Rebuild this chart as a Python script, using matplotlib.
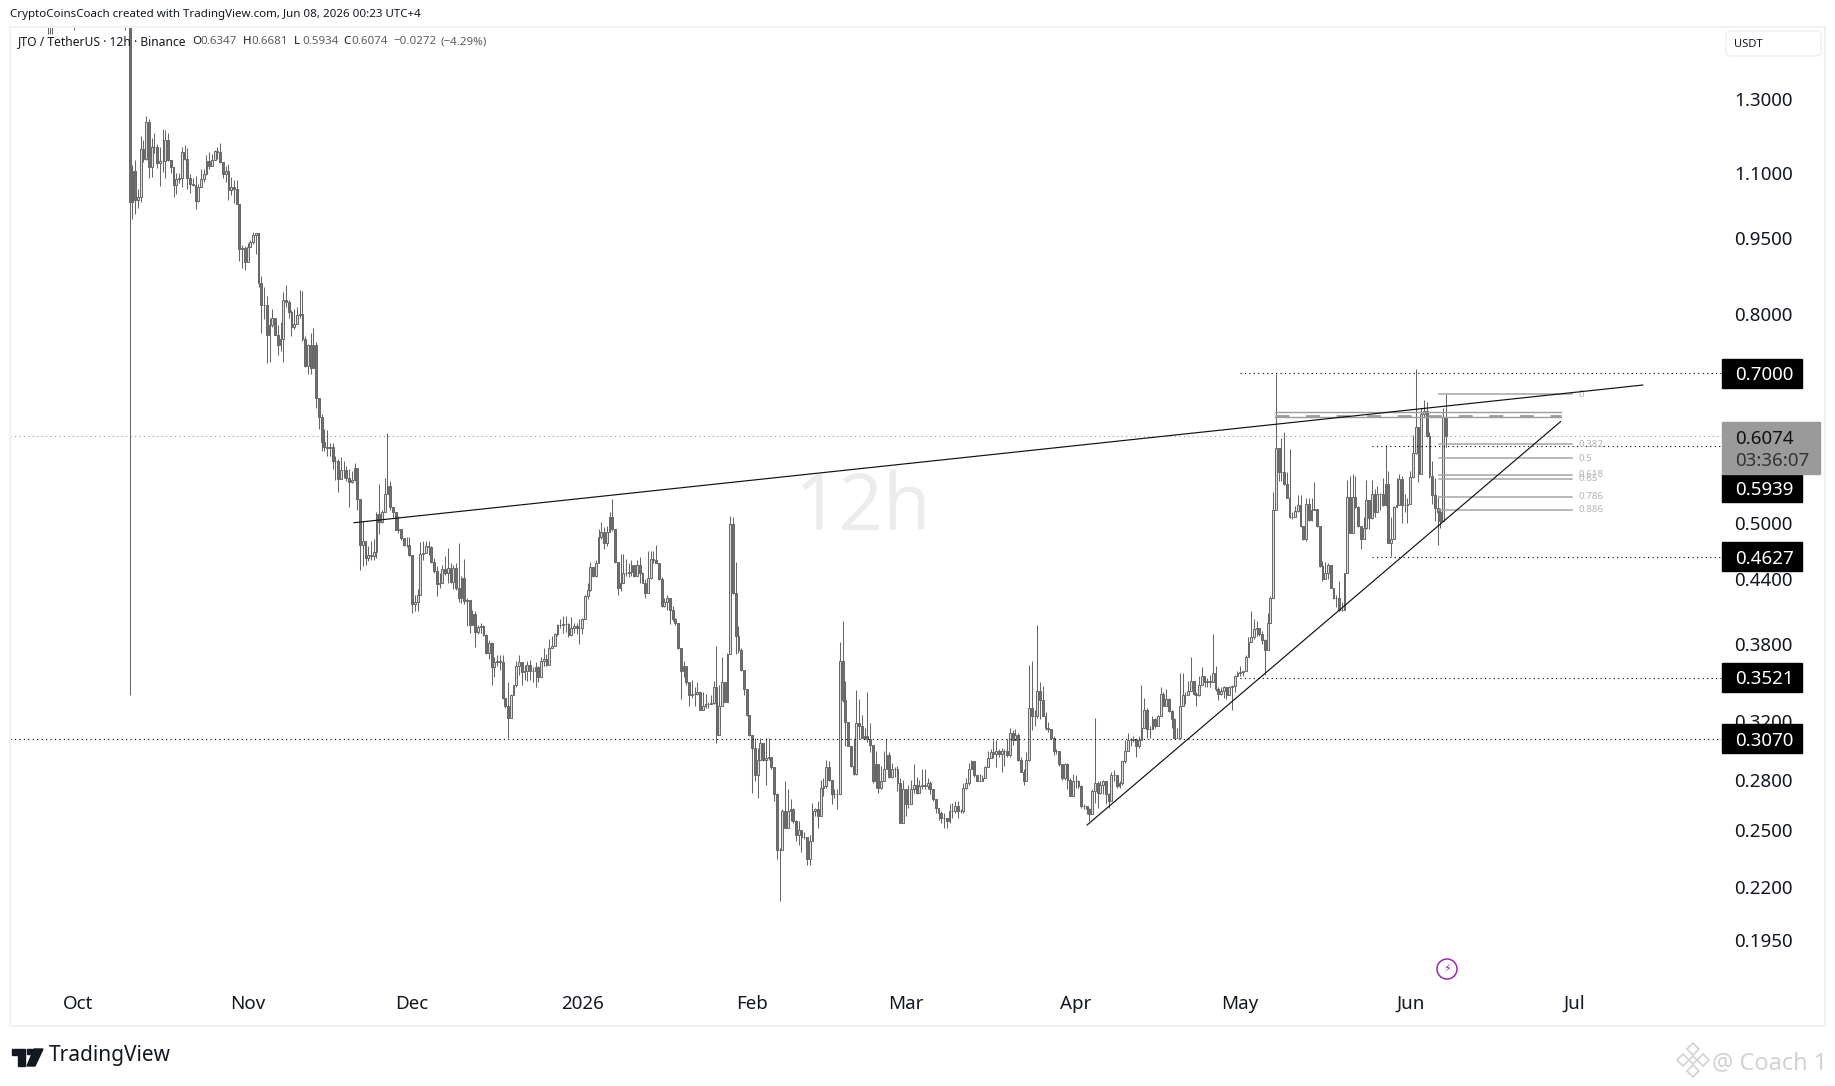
import matplotlib
matplotlib.use('Agg')
import matplotlib.pyplot as plt
import matplotlib.dates as mdates
from matplotlib.patches import Rectangle, FancyBboxPatch, Ellipse, Polygon
import numpy as np
import pandas as pd

plt.rcParams['font.family'] = ['Noto Sans', 'DejaVu Sans']

W, H = 1835, 1086

# 12h candles, open = previous close
first_open = 2.2
closes = [
    1.030,1.104,1.035,1.043,1.162,1.136,1.233,1.114,1.166,1.166,
    1.126,1.129,1.129,1.186,1.132,1.114,1.070,1.086,1.088,1.153,
    1.135,1.087,1.072,1.071,1.033,1.065,1.085,1.097,1.131,1.118,
    1.134,1.156,1.154,1.128,1.097,1.104,1.058,1.066,1.061,1.025,
    .926,.929,.900,.931,.941,.956,.960,.858,.816,.817,
    .763,.781,.793,.763,.746,.756,.826,.822,.805,.777,
    .782,.798,.800,.756,.712,.747,.709,.747,.663,.635,
    .600,.593,.592,.593,.575,.575,.552,.563,.563,.553,
    .548,.551,.566,.527,.476,.480,.462,.465,.464,.468,
    .510,.501,.512,.533,.543,.518,.512,.492,.493,.483,
    .476,.475,.465,.416,.418,.425,.466,.467,.474,.473,
    .458,.448,.435,.436,.450,.446,.451,.437,.451,.432,
    .422,.441,.419,.420,.397,.407,.391,.395,.396,.388,
    .373,.381,.361,.365,.366,.365,.337,.331,.322,.339,
    .347,.362,.365,.357,.358,.363,.358,.358,.361,.353,
    .366,.368,.363,.377,.379,.389,.397,.397,.398,.398,
    .388,.394,.396,.394,.394,.402,.424,.430,.452,.443,
    .457,.484,.490,.478,.490,.507,.493,.458,.432,.436,
    .446,.446,.447,.455,.443,.455,.446,.436,.427,.441,
    .461,.460,.457,.440,.414,.418,.422,.411,.402,.399,
    .377,.358,.362,.349,.339,.340,.340,.341,.328,.331,
    .332,.332,.333,.345,.310,.331,.349,.334,.372,.499,
    .427,.387,.375,.359,.344,.324,.310,.301,.283,.293,
    .304,.293,.294,.295,.288,.271,.239,.239,.261,.251,
    .261,.262,.255,.247,.250,.246,.246,.234,.244,.261,
    .262,.258,.275,.276,.288,.280,.271,.271,.271,.366,
    .335,.319,.302,.289,.284,.318,.316,.308,.309,.307,
    .303,.279,.290,.275,.279,.287,.296,.282,.287,.287,
    .278,.254,.274,.265,.265,.274,.277,.272,.276,.277,
    .276,.278,.274,.268,.263,.260,.257,.257,.255,.261,
    .261,.264,.261,.261,.275,.278,.287,.292,.283,.279,
    .279,.281,.288,.294,.298,.297,.299,.297,.299,.299,
    .296,.311,.306,.310,.293,.285,.279,.293,.329,.323,
    .323,.342,.335,.323,.315,.314,.308,.299,.299,.290,
    .281,.290,.280,.270,.279,.279,.276,.264,.264,.262,
    .259,.273,.278,.272,.277,.279,.271,.267,.283,.283,
    .276,.278,.292,.299,.306,.306,.307,.302,.306,.315,
    .328,.314,.314,.321,.316,.323,.340,.331,.336,.327,
    .321,.308,.308,.331,.339,.339,.342,.350,.340,.339,
    .347,.354,.349,.350,.349,.356,.344,.340,.342,.345,
    .339,.345,.346,.354,.356,.357,.358,.369,.382,.386,
    .393,.394,.389,.384,.375,.399,.422,.515,.592,.561,
    .561,.545,.529,.506,.506,.513,.520,.496,.482,.522,
    .503,.515,.516,.496,.454,.440,.446,.455,.432,.422,
    .422,.411,.411,.446,.530,.489,.530,.518,.496,.482,
    .494,.526,.505,.533,.512,.533,.534,.520,.545,.478,
    .482,.518,.520,.552,.520,.520,.522,.554,.585,.620,
    .558,.639,.643,.608,.555,.532,.517,.512,.502,.6347,
    .6074]
highs = [
    3.0,1.119,1.132,1.061,1.195,1.184,1.251,1.243,1.190,1.205,
    1.174,1.166,1.214,1.211,1.203,1.132,1.114,1.099,1.100,1.166,
    1.172,1.164,1.097,1.087,1.092,1.072,1.109,1.109,1.145,1.154,
    1.147,1.158,1.166,1.178,1.128,1.118,1.123,1.089,1.083,1.083,
    1.026,.936,.933,.940,.946,.964,.960,.961,.873,.851,
    .833,.793,.810,.793,.781,.787,.841,.854,.827,.807,
    .809,.813,.845,.843,.761,.748,.767,.776,.752,.663,
    .639,.617,.616,.599,.599,.581,.577,.580,.575,.568,
    .564,.562,.572,.566,.527,.502,.474,.474,.480,.482,
    .512,.546,.515,.553,.612,.549,.518,.512,.508,.493,
    .483,.484,.484,.465,.425,.431,.479,.480,.480,.480,
    .474,.462,.454,.446,.455,.464,.472,.457,.455,.457,
    .478,.443,.461,.422,.420,.411,.410,.397,.399,.397,
    .389,.384,.382,.369,.371,.371,.371,.337,.349,.340,
    .347,.366,.371,.363,.363,.366,.367,.361,.365,.362,
    .369,.377,.372,.385,.387,.390,.398,.402,.405,.405,
    .399,.404,.399,.399,.402,.403,.425,.436,.458,.452,
    .460,.493,.501,.495,.496,.512,.528,.492,.457,.466,
    .466,.461,.457,.460,.455,.460,.463,.447,.440,.469,
    .469,.469,.476,.457,.442,.422,.425,.421,.414,.403,
    .399,.377,.366,.362,.347,.351,.345,.349,.341,.341,
    .340,.334,.339,.350,.379,.347,.369,.349,.373,.508,
    .507,.458,.396,.377,.359,.344,.324,.310,.308,.301,
    .308,.304,.308,.308,.295,.288,.272,.240,.262,.279,
    .274,.268,.263,.256,.255,.249,.249,.246,.247,.266,
    .263,.267,.280,.281,.293,.292,.280,.274,.274,.382,
    .401,.350,.319,.302,.308,.343,.336,.324,.315,.341,
    .318,.303,.299,.290,.289,.299,.307,.298,.291,.288,
    .289,.281,.280,.274,.277,.280,.290,.282,.280,.287,
    .287,.281,.279,.274,.268,.263,.261,.260,.257,.265,
    .266,.267,.267,.262,.278,.281,.291,.293,.292,.283,
    .284,.283,.289,.299,.300,.306,.306,.300,.301,.300,
    .307,.315,.313,.314,.311,.295,.287,.298,.363,.366,
    .328,.397,.349,.346,.326,.319,.314,.309,.300,.299,
    .290,.291,.291,.281,.284,.283,.280,.277,.265,.263,
    .263,.274,.322,.279,.279,.280,.279,.272,.285,.286,
    .283,.279,.292,.306,.311,.308,.309,.308,.309,.347,
    .337,.329,.316,.323,.322,.324,.345,.341,.344,.337,
    .328,.322,.315,.356,.356,.341,.350,.369,.350,.341,
    .354,.361,.354,.352,.355,.389,.362,.345,.345,.346,
    .345,.346,.347,.355,.358,.362,.358,.371,.386,.410,
    .402,.401,.394,.392,.385,.408,.424,.536,.699,.592,
    .605,.613,.560,.590,.512,.519,.532,.532,.496,.529,
    .529,.529,.548,.516,.496,.459,.458,.457,.455,.432,
    .425,.438,.418,.446,.550,.556,.558,.556,.519,.494,
    .506,.551,.526,.551,.539,.543,.535,.553,.596,.562,
    .506,.519,.553,.558,.555,.533,.529,.562,.610,.707,
    .620,.648,.660,.657,.613,.575,.553,.531,.517,.648,
    .6681]
lows = [
    .339,.992,1.004,1.016,1.031,1.128,1.132,1.087,1.091,1.150,
    1.113,1.069,1.103,1.088,1.130,1.100,1.043,1.050,1.075,1.066,
    1.132,1.061,1.051,1.068,1.014,1.031,1.065,1.077,1.095,1.111,
    1.118,1.134,1.136,1.126,1.088,1.077,1.035,1.048,1.027,1.025,
    .902,.888,.883,.900,.931,.938,.917,.851,.767,.792,
    .717,.718,.777,.763,.730,.737,.719,.813,.793,.761,
    .774,.782,.793,.754,.710,.699,.699,.709,.648,.617,
    .588,.588,.581,.581,.564,.551,.536,.553,.553,.549,
    .518,.547,.549,.515,.449,.454,.455,.459,.460,.460,
    .462,.487,.500,.512,.533,.515,.506,.492,.488,.481,
    .474,.473,.464,.408,.410,.410,.425,.460,.469,.465,
    .457,.446,.424,.432,.436,.444,.436,.436,.431,.430,
    .418,.417,.416,.396,.390,.397,.378,.389,.390,.387,
    .372,.368,.347,.353,.362,.359,.336,.329,.308,.322,
    .339,.345,.355,.347,.351,.350,.351,.349,.345,.349,
    .353,.362,.362,.363,.377,.379,.387,.394,.390,.391,
    .386,.387,.390,.389,.380,.389,.402,.421,.429,.442,
    .442,.457,.482,.471,.474,.490,.491,.457,.425,.429,
    .436,.443,.442,.443,.442,.443,.436,.436,.422,.427,
    .440,.457,.457,.439,.413,.413,.411,.398,.401,.397,
    .376,.336,.353,.347,.331,.337,.331,.339,.328,.329,
    .329,.329,.332,.332,.304,.310,.331,.334,.334,.372,
    .426,.372,.373,.358,.339,.323,.309,.272,.279,.269,
    .293,.292,.277,.293,.287,.267,.234,.213,.239,.251,
    .251,.255,.254,.244,.242,.238,.245,.231,.231,.244,
    .258,.251,.258,.270,.275,.279,.265,.269,.262,.272,
    .334,.302,.302,.288,.283,.283,.307,.308,.307,.305,
    .298,.278,.275,.272,.274,.279,.287,.281,.281,.282,
    .273,.254,.254,.258,.263,.265,.272,.271,.274,.274,
    .274,.274,.271,.267,.260,.256,.254,.251,.251,.254,
    .257,.260,.257,.260,.260,.274,.277,.287,.282,.279,
    .279,.279,.281,.289,.294,.294,.288,.295,.285,.289,
    .295,.295,.303,.306,.292,.285,.277,.279,.292,.313,
    .316,.322,.321,.323,.313,.312,.307,.296,.297,.289,
    .280,.280,.274,.270,.270,.275,.275,.263,.262,.259,
    .255,.259,.266,.263,.271,.271,.265,.263,.267,.279,
    .275,.275,.277,.291,.299,.302,.305,.295,.301,.306,
    .3145,.308,.308,.314,.315,.316,.323,.331,.331,.326,
    .315,.308,.308,.308,.331,.332,.339,.342,.339,.331,
    .338,.347,.345,.345,.345,.349,.342,.335,.339,.337,
    .336,.339,.328,.341,.354,.354,.354,.358,.369,.382,
    .385,.387,.387,.380,.355,.375,.406,.422,.515,.549,
    .549,.544,.529,.505,.504,.506,.512,.495,.481,.480,
    .502,.502,.515,.495,.452,.438,.441,.440,.432,.421,
    .413,.410,.410,.411,.446,.488,.489,.517,.495,.471,
    .482,.493,.493,.504,.506,.512,.515,.519,.519,.478,
    .464,.482,.519,.520,.500,.512,.500,.522,.553,.584,
    .548,.558,.635,.607,.553,.522,.502,.476,.494,.503,
    .5934]

first_candle = '2025-10-10 12:00'

# bits of older wicks that poke in at the top edge
stray_dates = ['2025-09-25 14:00', '2025-09-26 00:00', '2025-09-26 07:00', '2025-09-30 07:00', '2025-10-09 14:00']
stray_lows = [1.505, 1.505, 1.505, 1.52, 1.52]

y_ticks = [1.3, 1.1, 0.95, 0.8, 0.5, 0.44, 0.38, 0.32, 0.28, 0.25, 0.22, 0.195]
month_dates = ['2025-10-01', '2025-11-01', '2025-12-01', '2026-01-01', '2026-02-01',
               '2026-03-01', '2026-04-01', '2026-05-01', '2026-06-01', '2026-07-01']
month_labels = ['Oct', 'Nov', 'Dec', '2026', 'Feb', 'Mar', 'Apr', 'May', 'Jun', 'Jul']

# drawings on the chart
trend_dates = [['2025-11-20 10:00', '2026-07-13 10:00'], ['2026-04-03 02:00', '2026-06-28 10:00']]
trend_prices = [[0.500, 0.682], [0.2529, 0.628]]
level_prices = [0.7000, 0.5939, 0.4627, 0.3521, 0.3070]
level_starts = ['2026-05-01 00:00', '2026-05-25 02:00', '2026-05-25 02:00', '2026-05-01 00:00', None]
last_price = 0.6074
fib_labels = ['0', '0.382', '0.5', '0.618', '0.65', '0.786', '0.886']
fib_prices = [0.668, 0.597, 0.578, 0.557, 0.552, 0.530, 0.515]
fib_range = ['2026-06-06 07:00', '2026-06-30 14:00']
box_prices = [0.642, 0.6347]
box_dash = 0.6365
box_range = ['2026-05-07 10:00', '2026-06-28 14:00']

# pixel helpers
def fx(x):
    return x / W

def fy(y):
    return 1 - y / H

def d(s):
    return mdates.date2num(pd.Timestamp(s))

dates = mdates.date2num(pd.date_range(first_candle, periods=len(closes), freq='12h'))
opens = np.array([first_open] + closes[:-1])
closes = np.array(closes)
highs = np.maximum(np.array(highs), np.maximum(opens, closes))
lows = np.minimum(np.array(lows), np.minimum(opens, closes))

fig = plt.figure(figsize=(W / 100, H / 100), dpi=100, facecolor='white')

L, R, T, B = 10, 1722, 27, 985
ax = fig.add_axes([fx(L), fy(B), fx(R - L), fy(T) - fy(B)])
ax.set_yscale('log')
ax.set_ylim(0.1763, 1.529)
px_day = 5.484
ax.set_xlim(dates[0] - (129.7 - L) / px_day, dates[0] + (R - 129.7) / px_day)
for s in ax.spines.values():
    s.set_visible(False)

# pane border
fig.add_artist(Rectangle((fx(10), fy(1026)), fx(1815), fy(27) - fy(1026), fill=False,
                         edgecolor='#f0f1f3', lw=1.5, transform=fig.transFigure))

# watermark of the interval
ax.text(d('2025-10-10') + (866 - 129.7) / px_day, 0.5152, '12h', fontsize=56, color='#ececec',
        ha='center', va='center', zorder=0, family='Open Sans')

# candles
edge = '#666666'
up = closes >= opens
ax.vlines(dates, lows, highs, color=edge, lw=0.75, zorder=2)
ax.vlines([d(s) for s in stray_dates], stray_lows, 1.6, color=edge, lw=0.75, zorder=2)
ax.bar(dates[up], (closes - opens)[up], bottom=opens[up], width=0.33, color='#dedede',
       edgecolor=edge, lw=0.7, zorder=3)
ax.bar(dates[~up], (opens - closes)[~up], bottom=closes[~up], width=0.33, color='#707070',
       edgecolor=edge, lw=0.7, zorder=3)

# dotted levels
x_end = ax.get_xlim()[1]
x_start = ax.get_xlim()[0]
dots = (0, (1, 3))
for p, s in zip(level_prices, level_starts):
    x0 = d(s) if s else x_start
    ax.plot([x0, x_end], [p, p], color='black', lw=0.8, ls=dots, zorder=4)
ax.plot([x_start, x_end], [last_price, last_price], color='#9a9a9a', lw=0.8, ls=dots, zorder=1)

# fib tool
for lab, p in zip(fib_labels, fib_prices):
    ax.plot([d(fib_range[0]), d(fib_range[1])], [p, p], color='#a6a6a6', lw=1.1, zorder=4)
    ax.text(d(fib_range[1]) + 1.1, p, lab, fontsize=7, color='#b4b4b4', va='center', zorder=4)

# range box
for p in box_prices:
    ax.plot([d(box_range[0]), d(box_range[1])], [p, p], color='#9c9c9c', lw=1.0, zorder=4)
ax.plot([d(box_range[0]), d(box_range[1])], [box_dash, box_dash], color='#9c9c9c', lw=2.0,
        ls=(0, (5, 6)), zorder=4)

# trend lines
for xs, ys in zip(trend_dates, trend_prices):
    ax.plot([d(xs[0]), d(xs[1])], ys, color='#111111', lw=0.85, zorder=5)

# axes labels
ax.yaxis.tick_right()
ax.set_yticks(y_ticks)
ax.set_yticklabels(['%.4f' % v for v in y_ticks], va='center_baseline')
ax.minorticks_off()
ax.tick_params(axis='y', length=0, pad=8.5, labelsize=13.5, labelcolor='#131722')
ax.set_xticks([d(s) for s in month_dates])
ax.set_xticklabels(month_labels)
ax.tick_params(axis='x', length=0, pad=7, labelsize=13.5, labelcolor='#131722')
ax.get_xticklabels()[3].set_fontweight('bold')

# price chips
def chip(y0, y1, txt, right=1802):
    fig.add_artist(Rectangle((fx(1722), fy(y1)), fx(right - 1722), fy(y0) - fy(y1), color='black',
                             transform=fig.transFigure, zorder=6))
    fig.text(fx(1735), fy((y0 + y1) / 2), txt, color='white', fontsize=13.5, va='center_baseline',
             zorder=7, fontweight='medium')

chip(359, 388, '0.7000')
chip(474, 502, '0.5939')
chip(542, 571, '0.4627')
chip(663, 692, '0.3521')
chip(724, 753, '0.3070')

fig.add_artist(Rectangle((fx(1722), fy(474)), fx(98), fy(422) - fy(474), color='#9a9a9a',
                         transform=fig.transFigure, zorder=6))
fig.text(fx(1735), fy(437), '0.6074', color='#111111', fontsize=13.5, va='center_baseline', zorder=7)
fig.text(fx(1735), fy(459), '03:36:07', color='#333333', fontsize=13.5, va='center_baseline', zorder=7)

# USDT button
fig.add_artist(FancyBboxPatch((fx(1726), fy(56)), fx(95), fy(31) - fy(56),
                              boxstyle='round,pad=0,rounding_size=0.003', fill=False,
                              edgecolor='#efefef', lw=1, transform=fig.transFigure))
fig.text(fx(1734), fy(44.5), 'USDT', fontsize=8, color='#131722', va='center')

# header lines
fig.text(fx(10), fy(15), 'CryptoCoinsCoach created with TradingView.com, Jun 08, 2026 00:23 UTC+4',
         fontsize=8.3, color='#131722', va='center')
fig.text(fx(18), fy(42), 'JTO / TetherUS \u00b7 12h \u00b7 Binance', fontsize=8.7, color='#131722', va='center')
for lab, val, xp in [('O', '0.6347', 192), ('H', '0.6681', 243), ('L', '0.5934', 294), ('C', '0.6074', 343)]:
    fig.text(fx(xp), fy(42), lab, fontsize=8.3, color='#131722', va='center')
    fig.text(fx(xp + 8), fy(42), val, fontsize=8.3, color='#5d5d5d', va='center')
fig.text(fx(393), fy(42), '\u22120.0272', fontsize=8.3, color='#5d5d5d', va='center')
fig.text(fx(440), fy(42), '(\u22124.29%)', fontsize=8.3, color='#5d5d5d', va='center')

# purple marker
fig.add_artist(Ellipse((fx(1447), fy(969)), 20 / W, 20 / H, fill=False, edgecolor='#9c27b0', lw=1.1,
                       transform=fig.transFigure))
fig.text(fx(1447), fy(969), '\u26a1', fontsize=8, color='#9c27b0', ha='center', va='center',
         family='DejaVu Sans')

# TradingView logo
logo = '#131722'
fig.add_artist(Polygon([(fx(12), fy(1049)), (fx(25), fy(1049)), (fx(25), fy(1066)), (fx(18), fy(1066)),
                        (fx(18), fy(1055)), (fx(12), fy(1055))], color=logo, transform=fig.transFigure))
fig.add_artist(Polygon([(fx(34), fy(1049)), (fx(43), fy(1049)), (fx(35), fy(1066)), (fx(27), fy(1066))],
                       color=logo, transform=fig.transFigure))
fig.add_artist(Polygon([(fx(27), fy(1049)), (fx(32), fy(1049)), (fx(32), fy(1054)), (fx(27), fy(1054))],
                       color=logo, transform=fig.transFigure))
fig.text(fx(49), fy(1056), 'TradingView', fontsize=15, fontweight='bold', color=logo, va='center')

# exchange watermark bottom right
wm = '#d2d2d2'
for cx, cy, r in [(1693, 1049, 6), (1683, 1060, 6), (1703, 1060, 6), (1693, 1071, 6), (1693, 1060, 4)]:
    fig.add_artist(Polygon([(fx(cx - r), fy(cy)), (fx(cx), fy(cy - r)), (fx(cx + r), fy(cy)), (fx(cx), fy(cy + r))],
                           fill=False, edgecolor=wm, lw=1.2, transform=fig.transFigure))
fig.text(fx(1712), fy(1063), '@ Coach 1', fontsize=17, color=wm, va='center')

fig.savefig('out.png', dpi=100)
